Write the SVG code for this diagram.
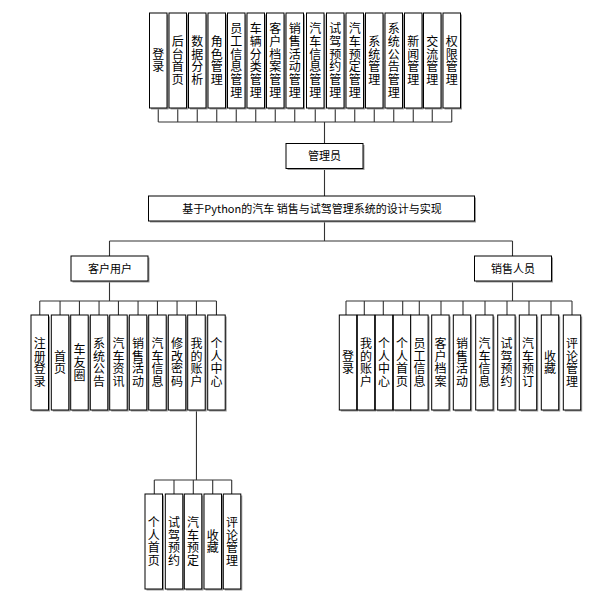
<svg xmlns="http://www.w3.org/2000/svg" width="611" height="598" viewBox="0 0 611 598">
<style>
.bx{fill:#fff;stroke:#000;stroke-width:1}
.sh{fill:#9a9a9a}
.v{font-family:"Noto Sans CJK SC","Noto Sans",sans-serif;font-size:12px;fill:#000;text-anchor:middle;writing-mode:vertical-rl;letter-spacing:0.8px}
.h{font-family:"Noto Sans CJK SC","Noto Sans",sans-serif;font-size:11px;fill:#000;text-anchor:middle}
.c{stroke:#333;stroke-width:1.1;fill:none}
</style>
<rect width="611" height="598" fill="#fff"/>
<g id="connectors" class="c">
<path d="M158.25 108V122M177.75 108V122M197.25 108V122M216.75 108V122M236.25 108V122M255.75 108V122M275.25 108V122M294.75 108V122M315.25 108V122M335.25 108V122M354.75 108V122M374.25 108V122M393.75 108V122M413.25 108V122M432.25 108V122M451.75 108V122"/>
<path d="M158.25 122H451.75M324.5 122V143.5"/>
<path d="M324.5 168.5V196M324.5 221V241M109.5 241H512.5M109.5 241V256M512.5 241V256"/>
<path d="M109.5 281V301M39.75 301H216.45M39.75 301V315M60.05 301V315M79.45 301V315M99.05 301V315M118.45 301V315M138.05 301V315M157.45 301V315M177.05 301V315M196.45 301V315M216.45 301V315"/>
<path d="M512.5 281V301M346 301H572M346 301V315M364.3 301V315M383.3 301V315M402.7 301V315M419.3 301V315M441 301V315M463 301V315M485 301V315M507 301V315M529 301V315M551 301V315M572 301V315"/>
<path d="M196.45 410V480M154.3 480H231.7M154.3 480V494M174 480V494M193.3 480V494M212.7 480V494M231.7 480V494"/>
</g>
<g id="n_login_a"><rect class="sh" x="151" y="14.5" width="17.5" height="95"/><rect class="bx" x="149.5" y="13" width="17.5" height="95"/><text class="v" x="158.25" y="60.9">登录</text></g>
<g id="n_backhome"><rect class="sh" x="170.5" y="14.5" width="17.5" height="95"/><rect class="bx" x="169" y="13" width="17.5" height="95"/><text class="v" x="177.75" y="60.9">后台首页</text></g>
<g id="n_analysis"><rect class="sh" x="190" y="14.5" width="17.5" height="95"/><rect class="bx" x="188.5" y="13" width="17.5" height="95"/><text class="v" x="197.25" y="60.9">数据分析</text></g>
<g id="n_role"><rect class="sh" x="209.5" y="14.5" width="17.5" height="95"/><rect class="bx" x="208" y="13" width="17.5" height="95"/><text class="v" x="216.75" y="60.9">角色管理</text></g>
<g id="n_staff"><rect class="sh" x="229" y="14.5" width="17.5" height="95"/><rect class="bx" x="227.5" y="13" width="17.5" height="95"/><text class="v" x="236.25" y="60.9">员工信息管理</text></g>
<g id="n_category"><rect class="sh" x="248.5" y="14.5" width="17.5" height="95"/><rect class="bx" x="247" y="13" width="17.5" height="95"/><text class="v" x="255.75" y="60.9">车辆分类管理</text></g>
<g id="n_custfile"><rect class="sh" x="268" y="14.5" width="17.5" height="95"/><rect class="bx" x="266.5" y="13" width="17.5" height="95"/><text class="v" x="275.25" y="60.9">客户档案管理</text></g>
<g id="n_promo"><rect class="sh" x="287.5" y="14.5" width="17.5" height="95"/><rect class="bx" x="286" y="13" width="17.5" height="95"/><text class="v" x="294.75" y="60.9">销售活动管理</text></g>
<g id="n_carinfo"><rect class="sh" x="308" y="14.5" width="17.5" height="95"/><rect class="bx" x="306.5" y="13" width="17.5" height="95"/><text class="v" x="315.25" y="60.9">汽车信息管理</text></g>
<g id="n_testdrive"><rect class="sh" x="328" y="14.5" width="17.5" height="95"/><rect class="bx" x="326.5" y="13" width="17.5" height="95"/><text class="v" x="335.25" y="60.9">试驾预约管理</text></g>
<g id="n_reserve"><rect class="sh" x="347.5" y="14.5" width="17.5" height="95"/><rect class="bx" x="346" y="13" width="17.5" height="95"/><text class="v" x="354.75" y="60.9">汽车预定管理</text></g>
<g id="n_system"><rect class="sh" x="367" y="14.5" width="17.5" height="95"/><rect class="bx" x="365.5" y="13" width="17.5" height="95"/><text class="v" x="374.25" y="60.9">系统管理</text></g>
<g id="n_notice"><rect class="sh" x="386.5" y="14.5" width="17.5" height="95"/><rect class="bx" x="385" y="13" width="17.5" height="95"/><text class="v" x="393.75" y="60.9">系统公告管理</text></g>
<g id="n_news"><rect class="sh" x="406" y="14.5" width="17.5" height="95"/><rect class="bx" x="404.5" y="13" width="17.5" height="95"/><text class="v" x="413.25" y="60.9">新闻管理</text></g>
<g id="n_forum"><rect class="sh" x="425" y="14.5" width="17.5" height="95"/><rect class="bx" x="423.5" y="13" width="17.5" height="95"/><text class="v" x="432.25" y="60.9">交流管理</text></g>
<g id="n_perm"><rect class="sh" x="444.5" y="14.5" width="17.5" height="95"/><rect class="bx" x="443" y="13" width="17.5" height="95"/><text class="v" x="451.75" y="60.9">权限管理</text></g>
<g id="n_admin"><rect class="sh" x="287.5" y="145" width="77" height="25"/><rect class="bx" x="286" y="143.5" width="77" height="25"/><text class="h" x="324.5" y="160.2">管理员</text></g>
<g id="n_title"><rect class="sh" x="150" y="197.5" width="326" height="25"/><rect class="bx" x="148.5" y="196" width="326" height="25"/><text class="h" x="312" y="212.7">基于Python的汽车 销售与试驾管理系统的设计与实现</text></g>
<g id="n_customer"><rect class="sh" x="72.5" y="257.5" width="77" height="25"/><rect class="bx" x="71" y="256" width="77" height="25"/><text class="h" x="110" y="272.7">客户用户</text></g>
<g id="n_sales"><rect class="sh" x="476" y="257.5" width="77" height="25"/><rect class="bx" x="474.5" y="256" width="77" height="25"/><text class="h" x="513" y="272.7">销售人员</text></g>
<g id="c_register"><rect class="sh" x="32.5" y="316.5" width="17.5" height="95"/><rect class="bx" x="31" y="315" width="17.5" height="95"/><text class="v" x="39.75" y="362.9">注册登录</text></g>
<g id="c_home"><rect class="sh" x="52.8" y="316.5" width="17.5" height="95"/><rect class="bx" x="51.3" y="315" width="17.5" height="95"/><text class="v" x="60.05" y="362.9">首页</text></g>
<g id="c_club"><rect class="sh" x="72.2" y="316.5" width="17.5" height="95"/><rect class="bx" x="70.7" y="315" width="17.5" height="95"/><text class="v" x="79.45" y="362.9">车友圈</text></g>
<g id="c_notice"><rect class="sh" x="91.8" y="316.5" width="17.5" height="95"/><rect class="bx" x="90.3" y="315" width="17.5" height="95"/><text class="v" x="99.05" y="362.9">系统公告</text></g>
<g id="c_news"><rect class="sh" x="111.2" y="316.5" width="17.5" height="95"/><rect class="bx" x="109.7" y="315" width="17.5" height="95"/><text class="v" x="118.45" y="362.9">汽车资讯</text></g>
<g id="c_promo"><rect class="sh" x="130.8" y="316.5" width="17.5" height="95"/><rect class="bx" x="129.3" y="315" width="17.5" height="95"/><text class="v" x="138.05" y="362.9">销售活动</text></g>
<g id="c_carinfo"><rect class="sh" x="150.2" y="316.5" width="17.5" height="95"/><rect class="bx" x="148.7" y="315" width="17.5" height="95"/><text class="v" x="157.45" y="362.9">汽车信息</text></g>
<g id="c_password"><rect class="sh" x="169.8" y="316.5" width="17.5" height="95"/><rect class="bx" x="168.3" y="315" width="17.5" height="95"/><text class="v" x="177.05" y="362.9">修改密码</text></g>
<g id="c_account"><rect class="sh" x="189.2" y="316.5" width="17.5" height="95"/><rect class="bx" x="187.7" y="315" width="17.5" height="95"/><text class="v" x="196.45" y="362.9">我的账户</text></g>
<g id="c_center"><rect class="sh" x="209.2" y="316.5" width="17.5" height="95"/><rect class="bx" x="207.7" y="315" width="17.5" height="95"/><text class="v" x="216.45" y="362.9">个人中心</text></g>
<g id="a_home"><rect class="sh" x="146.5" y="495.5" width="17.5" height="95"/><rect class="bx" x="145" y="494" width="17.5" height="95"/><text class="v" x="153.75" y="541.9">个人首页</text></g>
<g id="a_testdrive"><rect class="sh" x="166.8" y="495.5" width="17.5" height="95"/><rect class="bx" x="165.3" y="494" width="17.5" height="95"/><text class="v" x="174.05" y="541.9">试驾预约</text></g>
<g id="a_reserve"><rect class="sh" x="185.8" y="495.5" width="17.5" height="95"/><rect class="bx" x="184.3" y="494" width="17.5" height="95"/><text class="v" x="193.05" y="541.9">汽车预定</text></g>
<g id="a_fav"><rect class="sh" x="205.5" y="495.5" width="17.5" height="95"/><rect class="bx" x="204" y="494" width="17.5" height="95"/><text class="v" x="212.75" y="541.9">收藏</text></g>
<g id="a_comment"><rect class="sh" x="224.8" y="495.5" width="17.5" height="95"/><rect class="bx" x="223.3" y="494" width="17.5" height="95"/><text class="v" x="232.05" y="541.9">评论管理</text></g>
<g id="s_login"><rect class="sh" x="340.8" y="316.5" width="17.4" height="95"/><rect class="bx" x="339.3" y="315" width="17.4" height="95"/><text class="v" x="348" y="362.9">登录</text></g>
<g id="s_account"><rect class="sh" x="358.8" y="316.5" width="17.4" height="95"/><rect class="bx" x="357.3" y="315" width="17.4" height="95"/><text class="v" x="366" y="362.9">我的账户</text></g>
<g id="s_center"><rect class="sh" x="376.8" y="316.5" width="17.4" height="95"/><rect class="bx" x="375.3" y="315" width="17.4" height="95"/><text class="v" x="384" y="362.9">个人中心</text></g>
<g id="s_home"><rect class="sh" x="394.8" y="316.5" width="17.4" height="95"/><rect class="bx" x="393.3" y="315" width="17.4" height="95"/><text class="v" x="402" y="362.9">个人首页</text></g>
<g id="s_staff"><rect class="sh" x="412.2" y="316.5" width="17.4" height="95"/><rect class="bx" x="410.7" y="315" width="17.4" height="95"/><text class="v" x="419.4" y="362.9">员工信息</text></g>
<g id="s_custfile"><rect class="sh" x="433.2" y="316.5" width="17.4" height="95"/><rect class="bx" x="431.7" y="315" width="17.4" height="95"/><text class="v" x="440.4" y="362.9">客户档案</text></g>
<g id="s_promo"><rect class="sh" x="454.8" y="316.5" width="17.4" height="95"/><rect class="bx" x="453.3" y="315" width="17.4" height="95"/><text class="v" x="462" y="362.9">销售活动</text></g>
<g id="s_carinfo"><rect class="sh" x="477.2" y="316.5" width="17.4" height="95"/><rect class="bx" x="475.7" y="315" width="17.4" height="95"/><text class="v" x="484.4" y="362.9">汽车信息</text></g>
<g id="s_testdrive"><rect class="sh" x="499.2" y="316.5" width="17.4" height="95"/><rect class="bx" x="497.7" y="315" width="17.4" height="95"/><text class="v" x="506.4" y="362.9">试驾预约</text></g>
<g id="s_order"><rect class="sh" x="520.8" y="316.5" width="17.4" height="95"/><rect class="bx" x="519.3" y="315" width="17.4" height="95"/><text class="v" x="528" y="362.9">汽车预订</text></g>
<g id="s_fav"><rect class="sh" x="542.8" y="316.5" width="17.4" height="95"/><rect class="bx" x="541.3" y="315" width="17.4" height="95"/><text class="v" x="550" y="362.9">收藏</text></g>
<g id="s_comment"><rect class="sh" x="564.8" y="316.5" width="17.4" height="95"/><rect class="bx" x="563.3" y="315" width="17.4" height="95"/><text class="v" x="572" y="362.9">评论管理</text></g>
</svg>
